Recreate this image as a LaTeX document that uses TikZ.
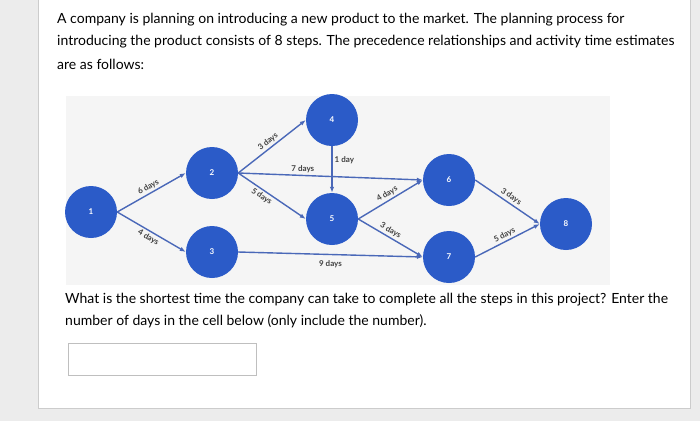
\documentclass[tikz,border=0pt]{standalone}
\usepackage{fontspec}
\setmainfont{Lato}
\usetikzlibrary{arrows.meta}
\definecolor{nblue}{HTML}{2B5BC8}
\definecolor{eblue}{HTML}{4A68B8}
\begin{document}
\begin{tikzpicture}[x=1pt,y=-1pt,
  nd/.style={circle,fill=nblue,minimum size=52pt,inner sep=0pt,text=white,font=\fontsize{8}{9}\selectfont\bfseries},
  ed/.style={draw=eblue,line width=1.4pt,-{Latex[length=6pt]}},
  lb/.style={font=\fontsize{8}{9}\selectfont\bfseries,text=black!75,inner sep=2pt},
  txt/.style={anchor=west,font=\fontsize{14}{17}\selectfont,inner sep=0pt}]
\useasboundingbox (0,0) rectangle (700,421);
\fill[gray!15] (0,0) rectangle (700,421);
\filldraw[fill=white,draw=gray!40] (38,-2) rectangle (690,408);
\node[txt] (t1) at (57,20) {A company is planning on introducing a new product to the market. The planning process for};
\node[txt] (t2) at (57,42) {introducing the product consists of 8 steps. The precedence relationships and activity time estimates};
\node[txt] (t3) at (57,64) {are as follows:};
\fill[gray!8] (66,96) rectangle (610,285);
\node[nd] (n1) at (91,212) {1};
\node[nd] (n2) at (212,173) {2};
\node[nd] (n3) at (212,252) {3};
\node[nd] (n4) at (332,120) {4};
\node[nd] (n5) at (332,219) {5};
\node[nd] (n6) at (449,180) {6};
\node[nd] (n7) at (449,257) {7};
\node[nd] (n8) at (566,224) {8};
\draw[ed] (n1.east) -- node[lb,above,sloped] {6 days} (n2.west);
\draw[ed] (n1.east) -- node[lb,below,sloped] {4 days} (n3.west);
\draw[ed] (n2.east) -- node[lb,above,sloped] {3 days} (n4.west);
\draw[ed] (n2.east) -- node[lb,above,pos=0.35] {7 days} (n6.west);
\draw[ed] (n2.east) -- node[lb,below,sloped,pos=0.4] {5 days} (n5.west);
\draw[ed] (n4) -- node[lb,right,pos=0.3] {1 day} (n5);
\draw[ed] (n5.east) -- node[lb,above,sloped] {4 days} (n6.west);
\draw[ed] (n5.east) -- node[lb,above,sloped,pos=0.45] {3 days} (n7.west);
\draw[ed] (n3.east) -- node[lb,below=3pt] {9 days} (n7.west);
\draw[ed] (n6.east) -- node[lb,above,sloped] {3 days} (n8.west);
\draw[ed] (n7.east) -- node[lb,above,sloped] {5 days} (n8.west);
\node[txt] (q1) at (65,300) {What is the shortest time the company can take to complete all the steps in this project? Enter the};
\node[txt] (q2) at (65,321) {number of days in the cell below (only include the number).};
\draw[gray!50,line width=0.8pt] (68,343) rectangle (256,375);
\end{tikzpicture}
\end{document}
